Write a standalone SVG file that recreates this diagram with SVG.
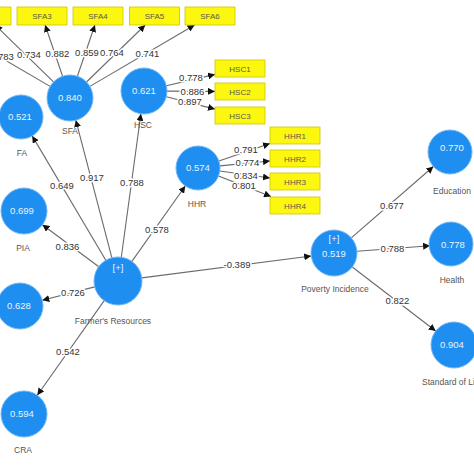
<svg xmlns="http://www.w3.org/2000/svg" width="474" height="474" viewBox="0 0 474 474">
<defs>
<marker id="ah" viewBox="0 0 10 10" refX="10" refY="5" markerWidth="7" markerHeight="7" markerUnits="userSpaceOnUse" orient="auto">
<path d="M0,0 L10,5 L0,10 z" fill="#111"/>
</marker>
</defs>
<style>
.bg{fill:#fff}
.c{fill:#1e8ff0;stroke:#6fb6f5;stroke-width:1}
.v{font-family:"Liberation Sans",Arial,sans-serif;font-size:9.5px;fill:#e8f3ff;text-anchor:middle}
.n{font-family:"Liberation Sans",Arial,sans-serif;font-size:8.5px;fill:#555;text-anchor:middle}
.b{fill:#fcf70f;stroke:#cfc400;stroke-width:0.8}
.bt{font-family:"Liberation Sans",Arial,sans-serif;font-size:8px;fill:#5a5a4a;text-anchor:middle}
.e{stroke:#6a6a6a;stroke-width:1.1;fill:none;marker-end:url(#ah)}
.l{font-family:"Liberation Sans",Arial,sans-serif;font-size:9.5px;fill:#333;text-anchor:middle;stroke:#fff;stroke-width:3;paint-order:stroke;stroke-linejoin:round}
</style>
<rect class="bg" x="0" y="0" width="474" height="474"/>
<g id="connectors">
<line class="e" x1="50.1" y1="86.4" x2="-54.6" y2="25"/>
<line class="e" x1="53.5" y1="81.9" x2="-4.8" y2="25"/>
<line class="e" x1="62.6" y1="76.2" x2="45.1" y2="25"/>
<line class="e" x1="77.4" y1="76.2" x2="94.9" y2="25"/>
<line class="e" x1="86.5" y1="82" x2="145.2" y2="25"/>
<line class="e" x1="89.9" y1="86.4" x2="194.6" y2="25"/>
<line class="e" x1="166.4" y1="85.8" x2="215" y2="74.4"/>
<line class="e" x1="167" y1="91.1" x2="215" y2="91.4"/>
<line class="e" x1="166.3" y1="96.7" x2="215" y2="109.1"/>
<line class="e" x1="218.9" y1="161" x2="270" y2="143.5"/>
<line class="e" x1="219.9" y1="165.9" x2="270" y2="161"/>
<line class="e" x1="219.8" y1="171" x2="270" y2="178"/>
<line class="e" x1="218.5" y1="175.9" x2="271" y2="196.5"/>
<line class="e" x1="111.9" y1="257.8" x2="75.8" y2="120.2"/>
<line class="e" x1="121.3" y1="257.2" x2="140.9" y2="113.8"/>
<line class="e" x1="105.8" y1="260.3" x2="32.2" y2="135.9"/>
<line class="e" x1="98.8" y1="266.7" x2="42.4" y2="224.7"/>
<line class="e" x1="94.7" y1="286.9" x2="42.3" y2="300.3"/>
<line class="e" x1="104.2" y1="300.6" x2="37.3" y2="395.2"/>
<line class="e" x1="131.9" y1="261.4" x2="185.3" y2="186"/>
<line class="e" x1="141.8" y1="277.9" x2="311.2" y2="256"/>
<line class="e" x1="351.3" y1="237.9" x2="433.4" y2="166.5"/>
<line class="e" x1="356.9" y1="251.3" x2="430.1" y2="245.7"/>
<line class="e" x1="352.3" y1="267" x2="435.7" y2="331"/>
<text class="l" x="2" y="60">0.783</text>
<text class="l" x="29" y="58">0.734</text>
<text class="l" x="57.5" y="57">0.882</text>
<text class="l" x="87" y="56">0.859</text>
<text class="l" x="112" y="56">0.764</text>
<text class="l" x="147.5" y="57">0.741</text>
<text class="l" x="191" y="81">0.778</text>
<text class="l" x="192.5" y="95">0.886</text>
<text class="l" x="190" y="105">0.897</text>
<text class="l" x="246" y="153">0.791</text>
<text class="l" x="247.5" y="166">0.774</text>
<text class="l" x="246" y="179">0.834</text>
<text class="l" x="244" y="189">0.801</text>
<text class="l" x="92" y="181">0.917</text>
<text class="l" x="132" y="186">0.788</text>
<text class="l" x="62" y="189">0.649</text>
<text class="l" x="67.5" y="250">0.836</text>
<text class="l" x="157" y="233">0.578</text>
<text class="l" x="73" y="296">0.726</text>
<text class="l" x="68" y="355">0.542</text>
<text class="l" x="237" y="268">-0.389</text>
<text class="l" x="392" y="209">0.677</text>
<text class="l" x="392.5" y="252">0.788</text>
<text class="l" x="397.5" y="304">0.822</text>
</g>
<g id="SFA1"><rect class="b" x="-95" y="7" width="50" height="18"/></g>
<g id="SFA2"><rect class="b" x="-39" y="7" width="50" height="18"/></g>
<g id="SFA3"><rect class="b" x="17" y="7" width="50" height="18"/><text class="bt" x="42" y="19">SFA3</text></g>
<g id="SFA4"><rect class="b" x="73" y="7" width="50" height="18"/><text class="bt" x="98" y="19">SFA4</text></g>
<g id="SFA5"><rect class="b" x="129.5" y="7" width="50" height="18"/><text class="bt" x="154.5" y="19">SFA5</text></g>
<g id="SFA6"><rect class="b" x="185" y="7" width="50" height="18"/><text class="bt" x="210" y="19">SFA6</text></g>
<g id="HSC1"><rect class="b" x="215" y="60" width="50" height="17"/><text class="bt" x="240" y="71.5">HSC1</text></g>
<g id="HSC2"><rect class="b" x="215" y="83" width="50" height="17"/><text class="bt" x="240" y="94.5">HSC2</text></g>
<g id="HSC3"><rect class="b" x="215" y="107" width="50" height="17"/><text class="bt" x="240" y="118.5">HSC3</text></g>
<g id="HHR1"><rect class="b" x="270" y="127" width="50" height="17"/><text class="bt" x="295" y="138.5">HHR1</text></g>
<g id="HHR2"><rect class="b" x="270" y="150" width="50" height="17"/><text class="bt" x="295" y="161.5">HHR2</text></g>
<g id="HHR3"><rect class="b" x="270" y="173" width="50" height="17"/><text class="bt" x="295" y="184.5">HHR3</text></g>
<g id="HHR4"><rect class="b" x="270" y="197" width="50" height="17"/><text class="bt" x="295" y="208.5">HHR4</text></g>
<g id="SFA"><circle class="c" cx="70" cy="98" r="23"/><text class="v" x="70" y="101">0.840</text><text class="n" x="70" y="134">SFA</text></g>
<g id="HSC"><circle class="c" cx="144" cy="91" r="23"/><text class="v" x="144" y="94">0.621</text><text class="n" x="143" y="128">HSC</text></g>
<g id="FA"><circle class="c" cx="21" cy="117" r="22"/><text class="v" x="20" y="120">0.521</text><text class="n" x="22" y="156">FA</text></g>
<g id="HHR"><circle class="c" cx="198" cy="168" r="22"/><text class="v" x="198" y="171">0.574</text><text class="n" x="197" y="207">HHR</text></g>
<g id="PIA"><circle class="c" cx="24" cy="211" r="23"/><text class="v" x="22" y="214">0.699</text><text class="n" x="23" y="251">PIA</text></g>
<g id="C628"><circle class="c" cx="20" cy="306" r="23"/><text class="v" x="19" y="309">0.628</text></g>
<g id="CRA"><circle class="c" cx="24" cy="414" r="23"/><text class="v" x="22" y="417">0.594</text><text class="n" x="23" y="453">CRA</text></g>
<g id="FarmersResources"><circle class="c" cx="118" cy="281" r="24"/><text class="v" x="118" y="271">[+]</text><text class="n" x="113" y="324">Farmer's Resources</text></g>
<g id="PovertyIncidence"><circle class="c" cx="334" cy="253" r="23"/><text class="v" x="334" y="242">[+]</text><text class="v" x="334" y="257">0.519</text><text class="n" x="335" y="292">Poverty Incidence</text></g>
<g id="Education"><circle class="c" cx="450" cy="152" r="22"/><text class="v" x="452" y="151">0.770</text><text class="n" x="452" y="194">Education</text></g>
<g id="Health"><circle class="c" cx="451" cy="244" r="22"/><text class="v" x="453" y="248">0.778</text><text class="n" x="452" y="283">Health</text></g>
<g id="StandardOfLiving"><circle class="c" cx="454" cy="345" r="23"/><text class="v" x="452" y="348">0.904</text><text class="n" x="422" y="385" style="text-anchor:start">Standard of Living</text></g>
</svg>
